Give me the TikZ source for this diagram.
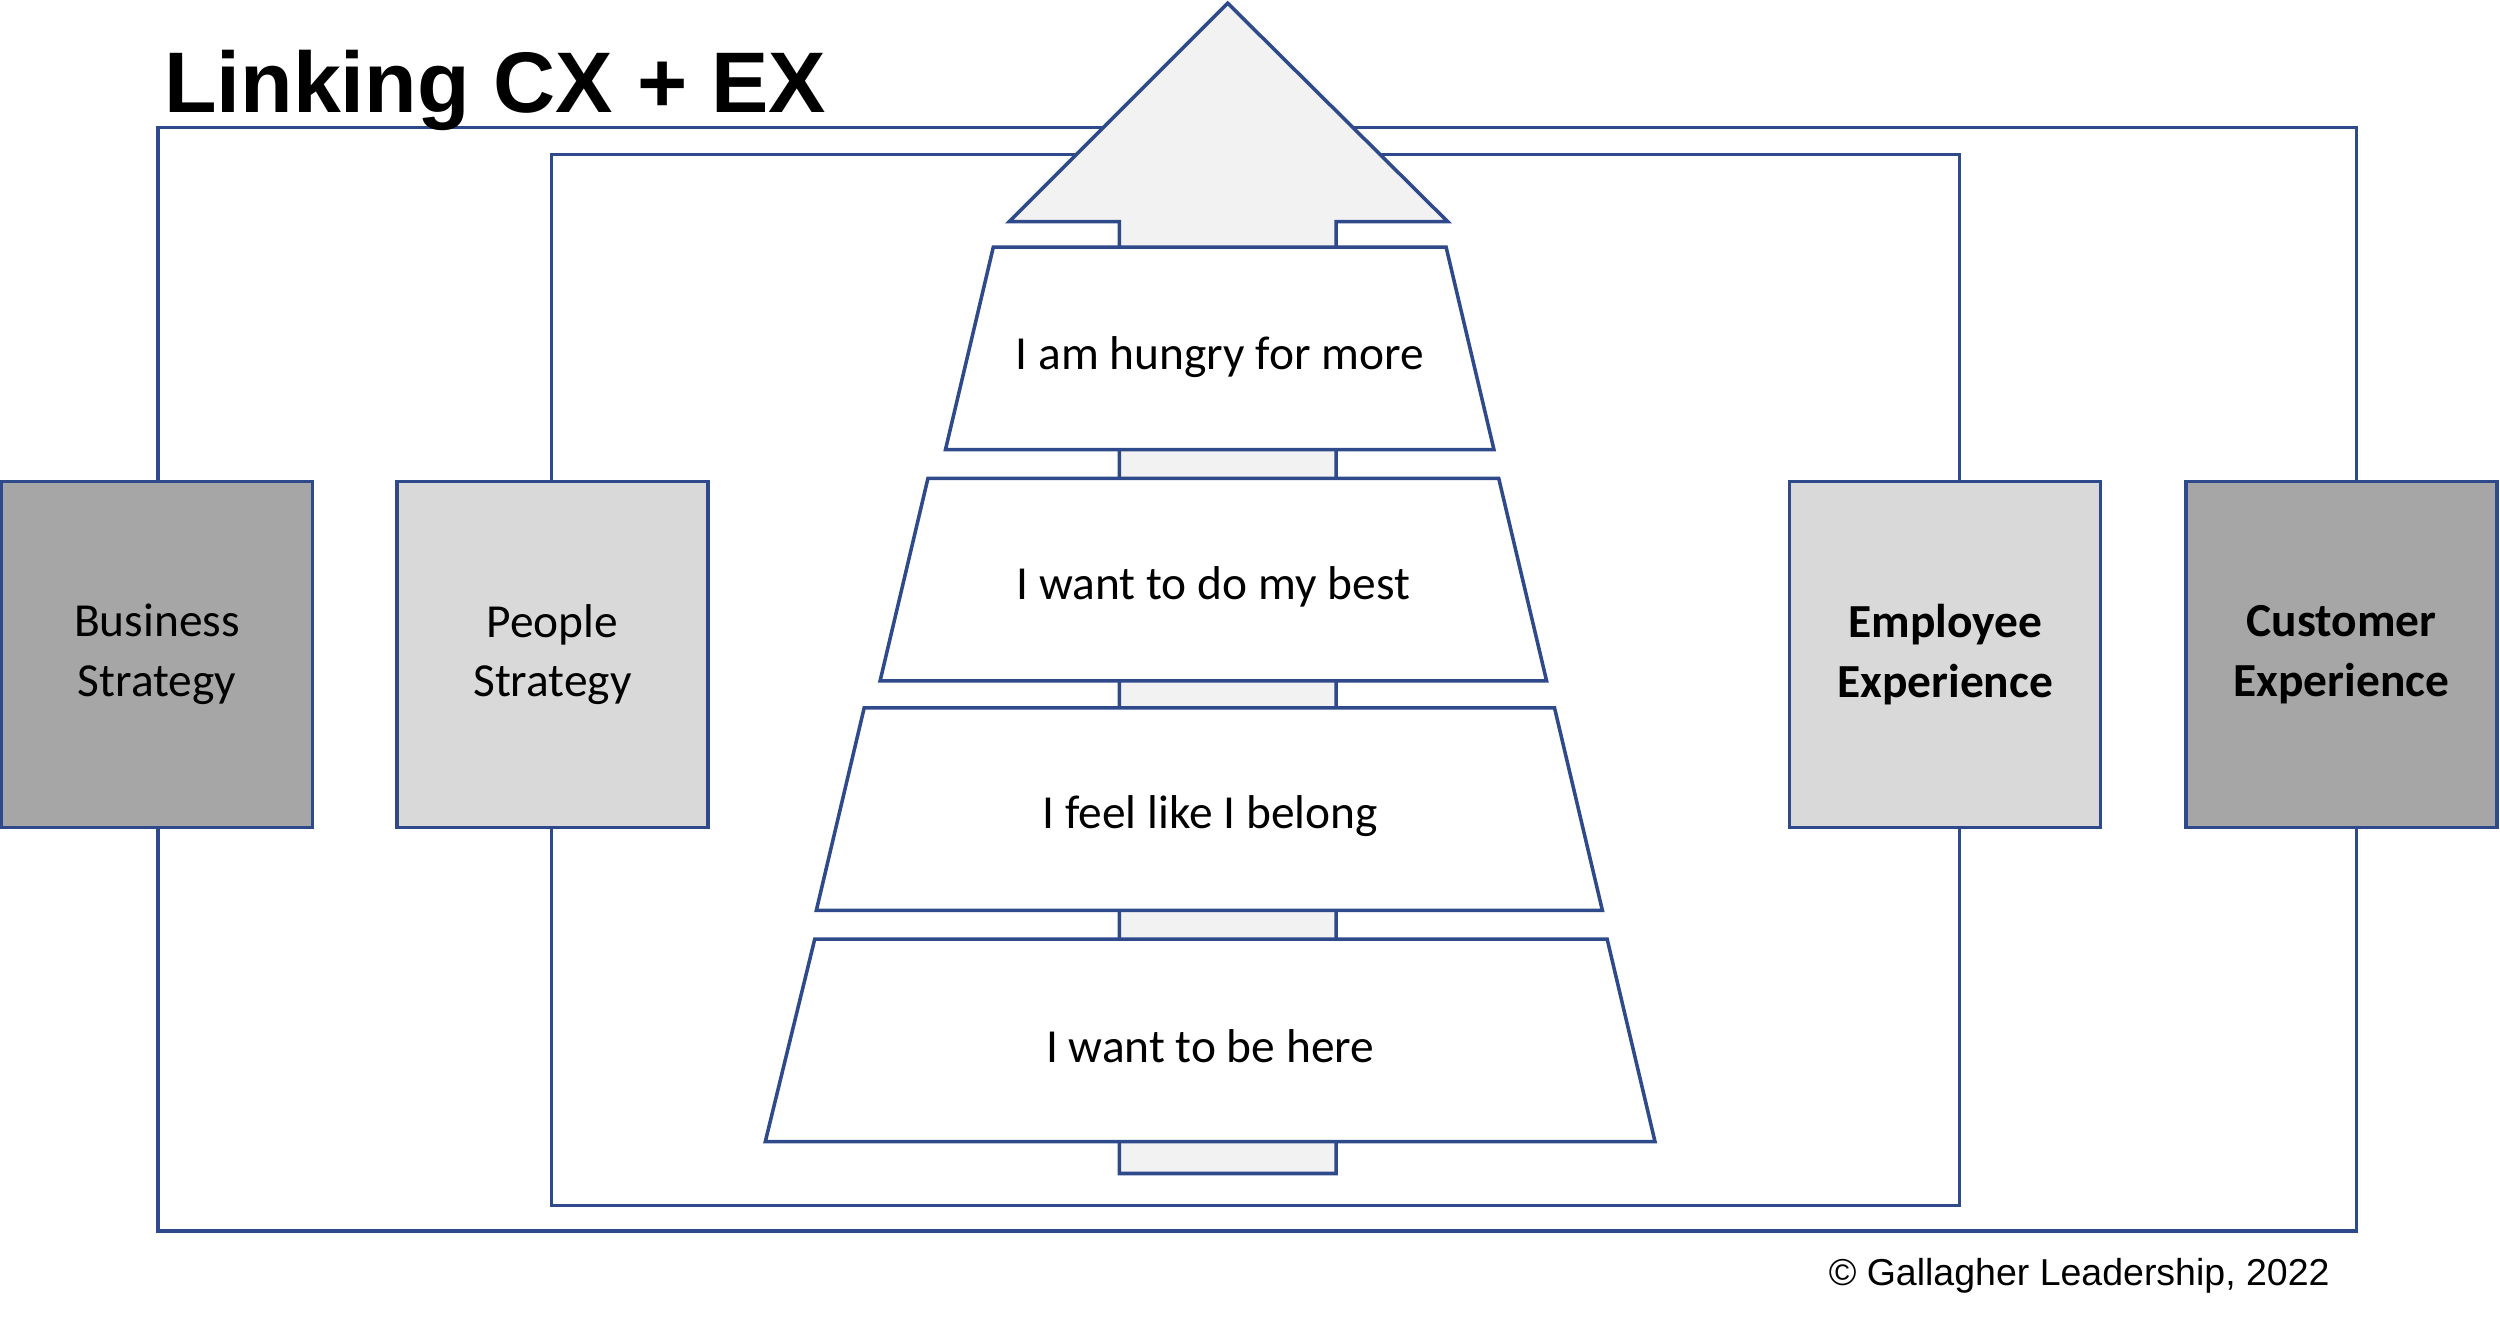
\documentclass[tikz,border=0pt]{standalone}
\usepackage{fontspec}
\setmainfont{Carlito}
\newfontfamily\arialf{Liberation Sans}
\definecolor{ln}{HTML}{2F4A8A}
\definecolor{dk}{HTML}{A6A6A6}
\definecolor{lt}{HTML}{D9D9D9}
\definecolor{ar}{HTML}{F2F2F2}
\begin{document}
\begin{tikzpicture}[x=0.0254cm,y=-0.0254cm,
  ln/.style={draw=ln,line width=1.6pt},
  sbox/.style={ln,minimum width=195*0.0254cm,minimum height=217*0.0254cm,align=center,font=\fontsize{21.5}{27}\selectfont},
  lvl/.style={ln,fill=white},
  lbl/.style={font=\fontsize{21.5}{24}\selectfont}]
\useasboundingbox (0,0) rectangle (1568,828);
\draw[ln] (99,80) rectangle (1478,772);
\draw[ln] (346,97) rectangle (1229,756);
\node[sbox,fill=dk] (bs) at (98.5,410.5) {Business\\Strategy};
\node[sbox,fill=lt] (ps) at (346.5,410.5) {People\\Strategy};
\node[sbox,fill=lt,font=\fontsize{21.5}{27}\selectfont\bfseries] (ee) at (1220,410.5) {Employee\\Experience};
\node[sbox,fill=dk,font=\fontsize{21.5}{27}\selectfont\bfseries] (ce) at (1468.5,410.5) {Customer\\Experience};
\draw[ln,fill=ar] (702,736) -- (702,139) -- (633,139) -- (770,2) -- (908,139) -- (838,139) -- (838,736) -- cycle;
\draw[lvl] (623,155) -- (907,155) -- (937,282) -- (593,282) -- cycle;
\draw[lvl] (582,300) -- (940,300) -- (970,427) -- (552,427) -- cycle;
\draw[lvl] (542,444) -- (975,444) -- (1005,571) -- (512,571) -- cycle;
\draw[lvl] (511,589) -- (1008,589) -- (1038,716) -- (480,716) -- cycle;
\node[lbl] (t1) at (765,224) {I am hungry for more};
\node[lbl] (t2) at (761,368) {I want to do my best};
\node[lbl] (t3) at (759,512) {I feel like I belong};
\node[lbl] (t4) at (759,656) {I want to be here};
\node[anchor=west,font=\arialf\bfseries\fontsize{39}{40}\selectfont] (title) at (98,57) {Linking CX + EX};
\node[anchor=east,font=\arialf\fontsize{17}{18}\selectfont] (cp) at (1466,800) {© Gallagher Leadership, 2022};
\end{tikzpicture}
\end{document}
